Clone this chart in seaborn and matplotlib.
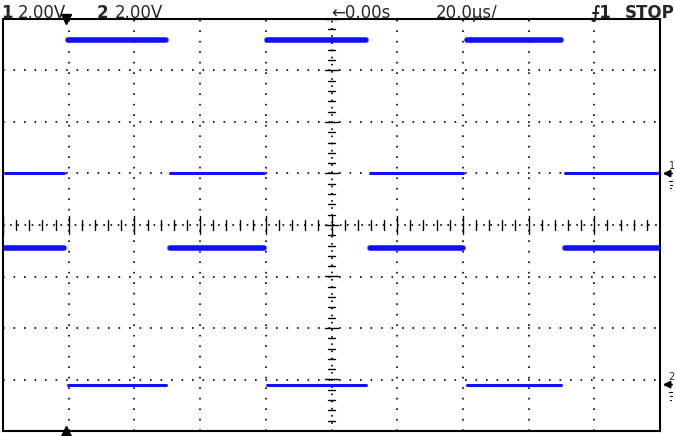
import numpy as np
import pandas as pd
import matplotlib
matplotlib.use("Agg")
import matplotlib.pyplot as plt
import seaborn as sns

# edges of the square waves, in microseconds (20 us/div, 10 div)
edges_us = [-100, -80.7, -49.9, -20.1, 11.0, 40.6, 70.4, 100]
# levels in divisions for each segment between edges
ch1_levels = [1.0, 3.6, 1.0, 3.6, 1.0, 3.6, 1.0]
ch2_levels = [-0.45, -3.1, -0.45, -3.1, -0.45, -3.1, -0.45]
header_left = ["1", "2.00V", "2", "2.00V"]
header_time = "←0.00s"
header_scale = "20.0µs/"

rows = []
for ch, levels in (("ch1", ch1_levels), ("ch2", ch2_levels)):
    for i, lv in enumerate(levels):
        a, b = edges_us[i], edges_us[i + 1]
        noisy = (ch == "ch1" and i % 2 == 1) or (ch == "ch2" and i % 2 == 0)
        rows.append((ch, f"{ch}_{i}", noisy, a + 0.6, lv))
        rows.append((ch, f"{ch}_{i}", noisy, b - 0.6, lv))
df = pd.DataFrame(rows, columns=["channel", "seg", "noisy", "t", "v"])

sns.set_style("white")
fig = plt.figure(figsize=(6.75, 4.36), dpi=100)
ax = fig.add_axes([3 / 675, 5 / 436, 657 / 675, 412 / 436])

# dotted graticule
for x in np.arange(-80, 100, 20):
    if x != 0:
        ax.plot([x, x], [-4, 4], color="black", lw=1.2, ls=(0, (1, 5.3)), zorder=1)
for y in np.arange(-3, 4, 1):
    if y != 0:
        ax.plot([-100, 100], [y, y], color="black", lw=1.2, ls=(0, (1, 5.3)), zorder=1)
ax.plot([-100, 100], [0, 0], color="black", lw=1.2, ls=(0, (1, 3.3)), zorder=1)
ax.plot([0, 0], [-4, 4], color="black", lw=1.2, ls=(0, (1, 3.3)), zorder=1)
for x in np.arange(-100, 100.1, 4):
    h = 0.1 if x % 20 else 0.18
    ax.plot([x, x], [-h, h], color="black", lw=1, zorder=1)
for y in np.arange(-4, 4.01, 0.2):
    w = 1.2 if abs(y - round(y)) > 1e-6 else 2.0
    ax.plot([-w, w], [y, y], color="black", lw=1, zorder=1)

sns.lineplot(data=df[~df.noisy], x="t", y="v", units="seg", estimator=None,
             color="#1010ff", lw=2.2, ax=ax, zorder=3)
sns.lineplot(data=df[df.noisy], x="t", y="v", units="seg", estimator=None,
             color="#1010ff", lw=4.0, ax=ax, zorder=3)

ax.set_xlim(-100, 100)
ax.set_ylim(-4, 4)
ax.set_xticks([])
ax.set_yticks([])
ax.set_xlabel("")
ax.set_ylabel("")
for s in ax.spines.values():
    s.set_color("black")
    s.set_linewidth(1.5)

# trigger position markers
ax.plot([edges_us[1]], [4], marker="v", color="black", ms=7, clip_on=False, zorder=5)
ax.plot([edges_us[1]], [-4], marker="^", color="black", ms=7, clip_on=False, zorder=5)

# channel ground markers on the right
for lv, lab in ((ch1_levels[0], "1"), (ch2_levels[1], "2")):
    ax.annotate("", xy=(100, lv), xytext=(104.5, lv), annotation_clip=False,
                arrowprops=dict(arrowstyle="-|>", color="black", lw=1.4))
    ax.text(102.6, lv + 0.05, lab, fontsize=7, ha="left", va="bottom")
    for k, w in enumerate([1.0, 0.6, 0.3]):
        yy = lv - 0.15 - k * 0.07
        ax.plot([102.8 - w / 2 + 0.5, 102.8 + w / 2 + 0.5], [yy, yy], color="black",
                lw=0.8, clip_on=False)

fs = 12
fig.text(0.002, 0.99, header_left[0], fontsize=fs, fontweight="bold", va="top")
fig.text(0.027, 0.99, header_left[1], fontsize=fs, va="top")
fig.text(0.143, 0.99, header_left[2], fontsize=fs, fontweight="bold", va="top")
fig.text(0.17, 0.99, header_left[3], fontsize=fs, va="top")
fig.text(0.49, 0.99, header_time, fontsize=fs, va="top")
fig.text(0.645, 0.99, header_scale, fontsize=fs, va="top")
fig.text(0.875, 0.99, "⨍1", fontsize=fs, fontweight="bold", va="top")
fig.text(0.925, 0.99, "STOP", fontsize=fs, fontweight="bold", va="top")

fig.savefig("out.png", dpi=100, facecolor="white")
